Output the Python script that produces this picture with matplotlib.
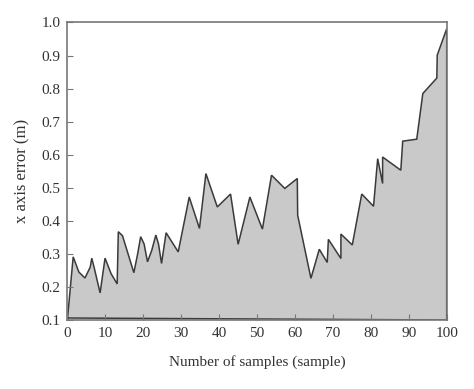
import numpy as np
import matplotlib
matplotlib.use("Agg")
import matplotlib.pyplot as plt

samples = [0, 1.5, 3.0, 4.6, 6.0, 6.4, 7.0, 8.6, 9.9, 11.5, 13.1, 13.4, 14.5, 17.5, 18.5,
           19.3, 20.2, 21.1, 22.2, 23.3, 24.0, 24.8, 26, 29.2, 32.1, 34.8, 36.5, 39.5, 43,
           45, 48.1, 51.4, 53.8, 57.3, 60.6, 60.7, 64.2, 66.4, 68.5, 68.8, 72.1, 72.1, 75.1,
           77.6, 80.7, 81.8, 83.1, 83.1, 87.9, 88.4, 92.1, 93.7, 97.4, 97.5, 100]
error = [0.105, 0.291, 0.245, 0.227, 0.26, 0.287, 0.26, 0.182, 0.287, 0.24, 0.209, 0.367,
         0.355, 0.243, 0.30, 0.352, 0.33, 0.276, 0.31, 0.357, 0.33, 0.271, 0.364, 0.306,
         0.472, 0.377, 0.543, 0.442, 0.481, 0.329, 0.472, 0.375, 0.538, 0.498, 0.528,
         0.417, 0.226, 0.314, 0.274, 0.344, 0.286, 0.360, 0.327, 0.481, 0.444, 0.588,
         0.513, 0.593, 0.553, 0.641, 0.647, 0.785, 0.832, 0.901, 0.981]
base_x = [0, 100]
base_y = [0.106, 0.100]

xticks = list(range(0, 101, 10))
yticks = [0.1, 0.2, 0.3, 0.4, 0.5, 0.6, 0.7, 0.8, 0.9, 1.0]
ytick_labels = ["0.1", "0.2", "0.3", "0.4", "0.5", "0.6", "0.7", "0.8", "0.9", "1.0"]

plt.rcParams['font.family'] = ['Liberation Serif', 'DejaVu Serif']

fig = plt.figure(figsize=(4.74, 3.89), dpi=100)
ax = fig.add_axes([0.1424, 0.1774, 0.8, 0.7648])

px = np.r_[samples, base_x[::-1]]
py = np.r_[error, base_y[::-1]]
ax.fill(px, py, facecolor='#c9c9c9', edgecolor='#3a3a3a', linewidth=1.1)

ax.set_xlim(0, 100)
ax.set_ylim(0.1, 1.0)
ax.set_xticks(xticks)
ax.set_yticks(yticks)
ax.set_yticklabels(ytick_labels)
ax.tick_params(direction='in', length=4, color='#777777', labelsize=11, labelcolor='#333333', pad=5)
for s in ax.spines.values():
    s.set_color('#777777')
    s.set_linewidth(1.2)
ax.set_xlabel('Number of samples (sample)', fontsize=11, color='#333333', labelpad=11)
ax.set_ylabel('x axis error (m)', fontsize=12, color='#333333', labelpad=8)

fig.savefig('out.png', dpi=100)
